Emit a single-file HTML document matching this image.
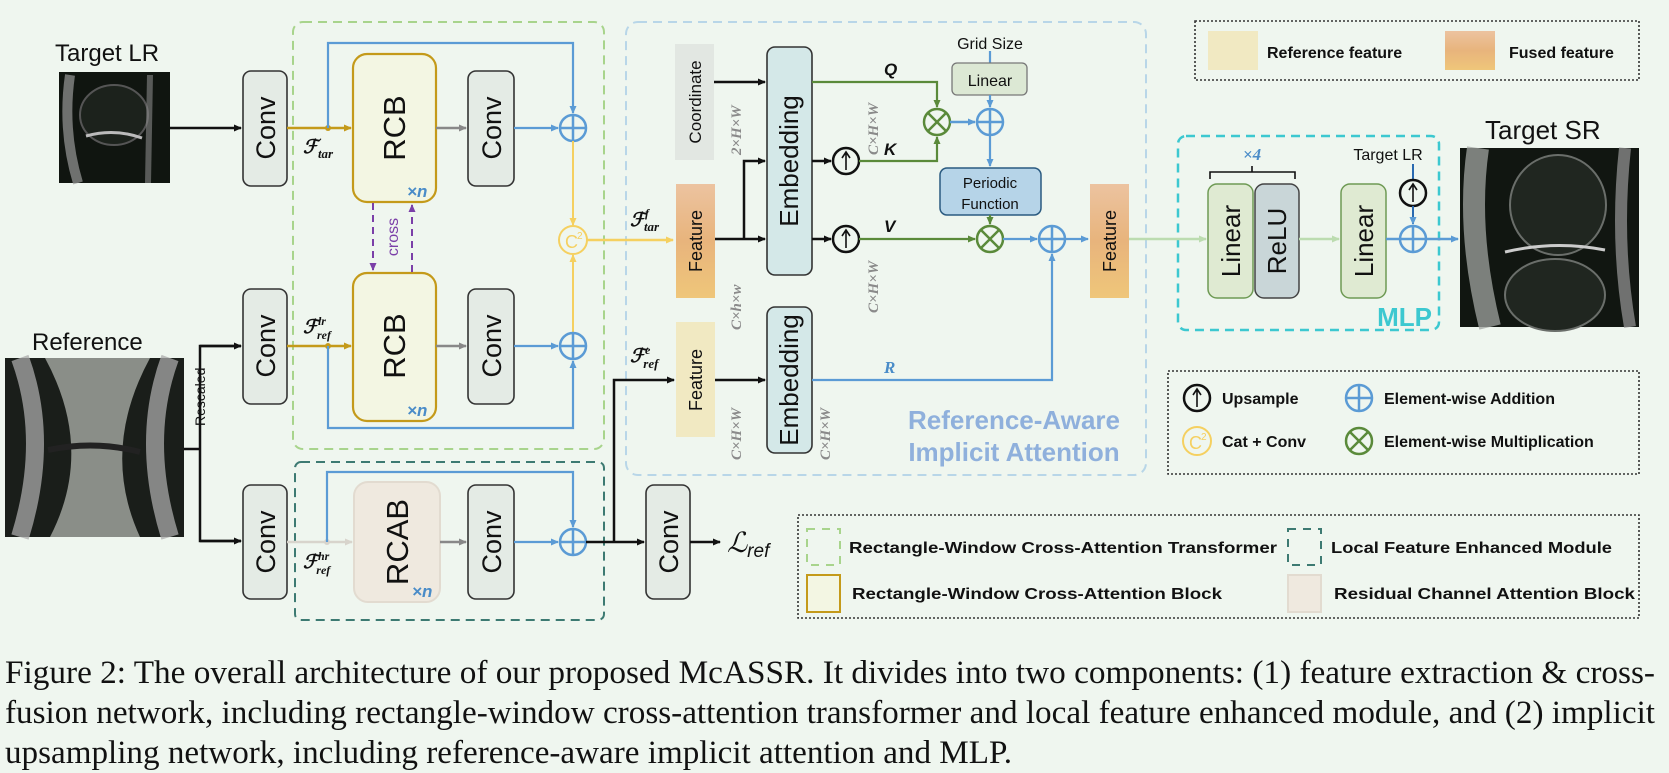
<!DOCTYPE html>
<html><head><meta charset="utf-8"><style>
html,body{margin:0;padding:0;background:#eff6ef;}
svg{display:block;}
text{font-family:"Liberation Sans",sans-serif;}
.v{font-family:"Liberation Sans",sans-serif;}
.m{font-family:"Liberation Serif",serif;font-style:italic;font-weight:bold;}
.d{font-family:"Liberation Serif",serif;font-style:italic;font-weight:bold;fill:#8a8a8a;font-size:15px;}
.lg{font-weight:bold;font-size:16px;fill:#111;}
.cap{font-family:"Liberation Serif",serif;font-size:33px;fill:#111;}
</style></head><body>
<svg width="1669" height="773" viewBox="0 0 1669 773" xmlns="http://www.w3.org/2000/svg">
<defs>
<marker id="ak" markerWidth="8" markerHeight="8" refX="7" refY="4" orient="auto" markerUnits="userSpaceOnUse"><path d="M0,0.5 L8,4 L0,7.5z" fill="#111"/></marker>
<marker id="ab" markerWidth="8" markerHeight="8" refX="7" refY="4" orient="auto" markerUnits="userSpaceOnUse"><path d="M0,0.5 L8,4 L0,7.5z" fill="#5b9bd5"/></marker>
<marker id="ag" markerWidth="8" markerHeight="8" refX="7" refY="4" orient="auto" markerUnits="userSpaceOnUse"><path d="M0,0.5 L8,4 L0,7.5z" fill="#c49a1a"/></marker>
<marker id="ay" markerWidth="8" markerHeight="8" refX="7" refY="4" orient="auto" markerUnits="userSpaceOnUse"><path d="M0,0.5 L8,4 L0,7.5z" fill="#f5d060"/></marker>
<marker id="agr" markerWidth="8" markerHeight="8" refX="7" refY="4" orient="auto" markerUnits="userSpaceOnUse"><path d="M0,0.5 L8,4 L0,7.5z" fill="#888"/></marker>
<marker id="agn" markerWidth="8" markerHeight="8" refX="7" refY="4" orient="auto" markerUnits="userSpaceOnUse"><path d="M0,0.5 L8,4 L0,7.5z" fill="#5a8a3a"/></marker>
<marker id="ap" markerWidth="8" markerHeight="8" refX="7" refY="4" orient="auto" markerUnits="userSpaceOnUse"><path d="M0,0.5 L8,4 L0,7.5z" fill="#7b3fa8"/></marker>
<marker id="al" markerWidth="8" markerHeight="8" refX="7" refY="4" orient="auto" markerUnits="userSpaceOnUse"><path d="M0,0.5 L8,4 L0,7.5z" fill="#bcdcb0"/></marker>
<marker id="ae" markerWidth="8" markerHeight="8" refX="7" refY="4" orient="auto" markerUnits="userSpaceOnUse"><path d="M0,0.5 L8,4 L0,7.5z" fill="#d8d4cc"/></marker>
<linearGradient id="fus" x1="0" y1="0" x2="0" y2="1"><stop offset="0" stop-color="#ecc3a0"/><stop offset="0.5" stop-color="#e8b47c"/><stop offset="1" stop-color="#efc67a"/></linearGradient>
<g id="plus"><circle r="13" fill="none" stroke="#5b9bd5" stroke-width="2.5"/><path d="M-13,0H13M0,-13V13" stroke="#5b9bd5" stroke-width="2.5"/></g>
<g id="times"><circle r="13" fill="none" stroke="#5a8a3a" stroke-width="2.5"/><path d="M-9,-9L9,9M9,-9L-9,9" stroke="#5a8a3a" stroke-width="2.5"/></g>
<g id="up"><circle r="13" fill="#fff" fill-opacity="0" stroke="#111" stroke-width="2.5"/><path d="M0,9V-8M-4,-3L0,-9L4,-3" stroke="#111" stroke-width="1.6" fill="none"/></g>
</defs>

<rect width="1669" height="773" fill="#eff6ef"/>

<rect x="293" y="22" width="311" height="427" rx="10" fill="none" stroke="#a8d48c" stroke-width="2" stroke-dasharray="9,6"/>
<rect x="295" y="462" width="309" height="158" rx="6" fill="none" stroke="#3d7a72" stroke-width="2" stroke-dasharray="9,6"/>
<rect x="626" y="22" width="520" height="453" rx="12" fill="none" stroke="#b8d6e8" stroke-width="2" stroke-dasharray="9,6"/>
<rect x="1178" y="136" width="261" height="194" rx="8" fill="none" stroke="#3cc8d0" stroke-width="2.5" stroke-dasharray="9,6"/>

<!-- Target LR -->
<text x="55" y="61" font-size="24" fill="#111">Target LR</text>
<rect x="59" y="72" width="111" height="111" fill="#101510"/>
<ellipse cx="114" cy="115" rx="34" ry="30" fill="#1c221c" stroke="#555" stroke-width="2"/>
<path d="M70,75 Q62,130 78,183" stroke="#999" stroke-width="10" fill="none" opacity="0.7"/>
<path d="M86,136 Q114,128 142,138" stroke="#bbb" stroke-width="3" fill="none"/>
<path d="M150,75 L148,183" stroke="#888" stroke-width="6" fill="none" opacity="0.6"/>
<path d="M170,128H241" stroke="#111" stroke-width="2.5" marker-end="url(#ak)"/>

<!-- Reference -->
<text x="32" y="350" font-size="24" fill="#111">Reference</text>
<rect x="5" y="358" width="179" height="179" fill="#1a1e1a"/>
<path d="M20,358 Q50,440 20,537 M170,358 Q140,440 170,537" stroke="#aaa" stroke-width="18" fill="none" opacity="0.75"/>
<path d="M45,358 Q95,450 50,537 L140,537 Q100,450 150,358z" fill="#8a8e88"/>
<path d="M48,450 Q95,440 140,452" stroke="#222" stroke-width="6" fill="none"/>
<path d="M184,449H200V346H241M200,449V541H241" stroke="#111" stroke-width="2.5" fill="none"/>
<path d="M200,346H241" stroke="#111" stroke-width="2.5" marker-end="url(#ak)"/>
<path d="M200,541H241" stroke="#111" stroke-width="2.5" marker-end="url(#ak)"/>
<text class="v" transform="translate(205,426) rotate(-90)" font-size="14" fill="#111">Rescaled</text>

<g fill="#e4ebe5" stroke="#333" stroke-width="1.6">
<rect x="243" y="71" width="44" height="115" rx="8"/>
<rect x="468" y="71" width="46" height="115" rx="8"/>
<rect x="243" y="289" width="44" height="115" rx="8"/>
<rect x="468" y="289" width="46" height="115" rx="8"/>
<rect x="243" y="485" width="44" height="114" rx="8"/>
<rect x="468" y="485" width="46" height="114" rx="8"/>
<rect x="646" y="485" width="44" height="114" rx="8"/>
</g>
<g font-size="27" fill="#111" text-anchor="middle">
<text transform="translate(275,128) rotate(-90)">Conv</text>
<text transform="translate(501,128) rotate(-90)">Conv</text>
<text transform="translate(275,346) rotate(-90)">Conv</text>
<text transform="translate(501,346) rotate(-90)">Conv</text>
<text transform="translate(275,542) rotate(-90)">Conv</text>
<text transform="translate(501,542) rotate(-90)">Conv</text>
<text transform="translate(678,542) rotate(-90)">Conv</text>
</g>

<rect x="353" y="54" width="83" height="148" rx="14" fill="#f3f6e3" stroke="#c49a1a" stroke-width="2.2"/>
<rect x="353" y="273" width="83" height="148" rx="14" fill="#f3f6e3" stroke="#c49a1a" stroke-width="2.2"/>
<rect x="354" y="482" width="86" height="120" rx="14" fill="#efe9df" stroke="#e2dbd0" stroke-width="2"/>
<g font-size="31" fill="#111" text-anchor="middle">
<text transform="translate(405,128) rotate(-90)">RCB</text>
<text transform="translate(405,346) rotate(-90)">RCB</text>
<text transform="translate(408,542) rotate(-90)">RCAB</text>
</g>
<g class="m" font-size="17" fill="#4a8cc8" font-weight="normal">
<text x="407" y="197">×<tspan font-weight="bold">n</tspan></text>
<text x="407" y="416">×<tspan font-weight="bold">n</tspan></text>
<text x="412" y="597">×<tspan font-weight="bold">n</tspan></text>
</g>

<path d="M287,128H351" stroke="#c49a1a" stroke-width="2.5" marker-end="url(#ag)"/>
<circle cx="328" cy="128" r="3" fill="#c49a1a"/>
<path d="M328,128V43H573V113" stroke="#5b9bd5" stroke-width="2.2" fill="none" marker-end="url(#ab)"/>
<path d="M436,128H466" stroke="#888" stroke-width="2.5" marker-end="url(#agr)"/>
<path d="M514,128H558" stroke="#5b9bd5" stroke-width="2.2" marker-end="url(#ab)"/>
<use href="#plus" x="573" y="128"/>
<path d="M573,141V225" stroke="#f5d060" stroke-width="2" marker-end="url(#ay)"/>
<path d="M573,333V255" stroke="#f5d060" stroke-width="2" marker-end="url(#ay)"/>
<circle cx="573" cy="240" r="14" fill="none" stroke="#f5d060" stroke-width="2"/>
<text x="565" y="248" font-size="18" fill="#f5d060">C</text><text x="577" y="239" font-size="10" fill="#f5d060">2</text>
<path d="M587,240H673" stroke="#f5d060" stroke-width="2.5" marker-end="url(#ay)"/>
<text class="m" x="303" y="153" font-size="19" fill="#111">ℱ<tspan font-size="13" dy="5">tar</tspan></text>

<path d="M373,203V270" stroke="#7b3fa8" stroke-width="2" stroke-dasharray="7,5" marker-end="url(#ap)"/>
<path d="M412,272V205" stroke="#7b3fa8" stroke-width="2" stroke-dasharray="7,5" marker-end="url(#ap)"/>
<text transform="translate(398,237) rotate(-90)" font-size="16" fill="#7b3fa8" text-anchor="middle">cross</text>

<path d="M287,346H351" stroke="#c49a1a" stroke-width="2.5" marker-end="url(#ag)"/>
<circle cx="328" cy="346" r="3" fill="#c49a1a"/>
<path d="M328,346V428H573V361" stroke="#5b9bd5" stroke-width="2.2" fill="none" marker-end="url(#ab)"/>
<path d="M436,346H466" stroke="#888" stroke-width="2.5" marker-end="url(#agr)"/>
<path d="M514,346H558" stroke="#5b9bd5" stroke-width="2.2" marker-end="url(#ab)"/>
<use href="#plus" x="573" y="346"/>
<text class="m" x="303" y="333" font-size="19" fill="#111">ℱ<tspan font-size="12" dy="-8">lr</tspan><tspan font-size="12" dx="-9" dy="14">ref</tspan></text>

<path d="M287,542H352" stroke="#d8d4cc" stroke-width="2.5" marker-end="url(#ae)"/>
<circle cx="327" cy="542" r="3" fill="#d8d4cc"/>
<path d="M327,542V472H573V527" stroke="#5b9bd5" stroke-width="2.2" fill="none" marker-end="url(#ab)"/>
<path d="M440,542H466" stroke="#888" stroke-width="2.5" marker-end="url(#agr)"/>
<path d="M514,542H558" stroke="#5b9bd5" stroke-width="2.2" marker-end="url(#ab)"/>
<use href="#plus" x="573" y="542"/>
<text class="m" x="303" y="568" font-size="19" fill="#111">ℱ<tspan font-size="12" dy="-8">hr</tspan><tspan font-size="12" dx="-13" dy="14">ref</tspan></text>
<path d="M586,542H644" stroke="#111" stroke-width="2.5" marker-end="url(#ak)"/>
<path d="M614,542V380H674" stroke="#111" stroke-width="2.5" fill="none" marker-end="url(#ak)"/>
<path d="M690,542H720" stroke="#111" stroke-width="2.5" marker-end="url(#ak)"/>
<text x="727" y="552" font-family="Liberation Serif,serif" font-style="italic" font-size="28" fill="#111">ℒ<tspan font-size="19" dy="5">ref</tspan></text>

<rect x="675" y="44" width="39" height="116" fill="#e2e7e2"/>
<text transform="translate(701,102) rotate(-90)" font-size="17" fill="#111" text-anchor="middle">Coordinate</text>
<rect x="676" y="184" width="39" height="114" fill="url(#fus)"/>
<text transform="translate(702,241) rotate(-90)" font-size="18" fill="#111" text-anchor="middle">Feature</text>
<rect x="676" y="322" width="39" height="115" fill="#f1e9c2"/>
<text transform="translate(702,380) rotate(-90)" font-size="18" fill="#111" text-anchor="middle">Feature</text>
<rect x="767" y="47" width="45" height="228" rx="8" fill="#d4e8e8" stroke="#333" stroke-width="1.6"/>
<text transform="translate(798,161) rotate(-90)" font-size="26" fill="#111" text-anchor="middle">Embedding</text>
<rect x="767" y="307" width="45" height="146" rx="8" fill="#d4e8e8" stroke="#333" stroke-width="1.6"/>
<text transform="translate(798,380) rotate(-90)" font-size="26" fill="#111" text-anchor="middle">Embedding</text>

<text class="m" x="630" y="226" font-size="19" fill="#111">ℱ<tspan font-size="12" dy="-9">f</tspan><tspan font-size="13" dx="-5" dy="14">tar</tspan></text>
<text class="m" x="630" y="362" font-size="19" fill="#111">ℱ<tspan font-size="12" dy="-8">e</tspan><tspan font-size="13" dx="-7" dy="14">ref</tspan></text>

<path d="M714,82H765" stroke="#111" stroke-width="2.5" marker-end="url(#ak)"/>
<path d="M715,239H765" stroke="#111" stroke-width="2.5" marker-end="url(#ak)"/>
<path d="M744,239V161H765" stroke="#111" stroke-width="2.5" fill="none" marker-end="url(#ak)"/>
<path d="M715,380H765" stroke="#111" stroke-width="2.5" marker-end="url(#ak)"/>
<path d="M812,161H831" stroke="#111" stroke-width="2.5" marker-end="url(#ak)"/>
<path d="M812,239H831" stroke="#111" stroke-width="2.5" marker-end="url(#ak)"/>
<use href="#up" x="846" y="161"/>
<use href="#up" x="846" y="239"/>

<text class="d" transform="translate(741,155) rotate(-90)">2×H×W</text>
<text class="d" transform="translate(741,330) rotate(-90)">C×h×w</text>
<text class="d" transform="translate(741,460) rotate(-90)">C×H×W</text>
<text class="d" transform="translate(830,460) rotate(-90)">C×H×W</text>
<text class="d" transform="translate(878,155) rotate(-90)">C×H×W</text>
<text class="d" transform="translate(878,313) rotate(-90)">C×H×W</text>

<path d="M812,82H937V107" stroke="#5a8a3a" stroke-width="2.2" fill="none" marker-end="url(#agn)"/>
<path d="M859,161H937V137" stroke="#5a8a3a" stroke-width="2.2" fill="none" marker-end="url(#agn)"/>
<path d="M859,239H975" stroke="#5a8a3a" stroke-width="2.2" marker-end="url(#agn)"/>
<g class="m" font-size="17" fill="#111">
<text x="884" y="75">Q</text><text x="884" y="155">K</text><text x="884" y="232">V</text>
</g>
<text class="m" x="884" y="373" font-size="17" fill="#4a8cc8">R</text>
<use href="#times" x="937" y="122"/>
<path d="M950,122H975" stroke="#5b9bd5" stroke-width="2.5" marker-end="url(#ab)"/>
<use href="#plus" x="990" y="122"/>
<text x="990" y="49" font-size="16" fill="#111" text-anchor="middle">Grid Size</text>
<path d="M990,51V63" stroke="#5b9bd5" stroke-width="2.2"/>
<rect x="952" y="63" width="75" height="32" rx="5" fill="#dce8d4" stroke="#777" stroke-width="1.3"/>
<text x="990" y="86" font-size="16" fill="#111" text-anchor="middle">Linear</text>
<path d="M990,95V107" stroke="#5b9bd5" stroke-width="2.2" marker-end="url(#ab)"/>
<path d="M990,135V166" stroke="#5b9bd5" stroke-width="2.2" marker-end="url(#ab)"/>
<rect x="940" y="168" width="101" height="47" rx="7" fill="#b6d4e8" stroke="#2a5a80" stroke-width="1.5"/>
<text x="990" y="188" font-size="15" fill="#111" text-anchor="middle">Periodic</text>
<text x="990" y="209" font-size="15" fill="#111" text-anchor="middle">Function</text>
<path d="M990,215V224" stroke="#5a8a3a" stroke-width="2.2" marker-end="url(#agn)"/>
<use href="#times" x="990" y="239"/>
<path d="M1003,239H1037" stroke="#5b9bd5" stroke-width="2.2" marker-end="url(#ab)"/>
<use href="#plus" x="1052" y="239"/>
<path d="M812,380H1052V254" stroke="#5b9bd5" stroke-width="2.2" fill="none" marker-end="url(#ab)"/>
<path d="M1065,239H1088" stroke="#5b9bd5" stroke-width="2.2" marker-end="url(#ab)"/>
<rect x="1090" y="184" width="39" height="114" fill="url(#fus)"/>
<text transform="translate(1116,241) rotate(-90)" font-size="18" fill="#111" text-anchor="middle">Feature</text>
<text x="1014" y="429" font-size="26" font-weight="bold" fill="#8fb0dc" text-anchor="middle">Reference-Aware</text>
<text x="1014" y="461" font-size="26" font-weight="bold" fill="#8fb0dc" text-anchor="middle">Implicit Attention</text>

<path d="M1129,239H1206" stroke="#bcdcb0" stroke-width="2.5" marker-end="url(#al)"/>
<rect x="1208" y="184" width="45" height="114" rx="9" fill="#dfead2" stroke="#6e9a54" stroke-width="1.5"/>
<rect x="1255" y="184" width="44" height="114" rx="9" fill="#c9d6d8" stroke="#444" stroke-width="1.5"/>
<rect x="1341" y="184" width="45" height="114" rx="9" fill="#dfead2" stroke="#6e9a54" stroke-width="1.5"/>
<g font-size="26" fill="#111" text-anchor="middle">
<text transform="translate(1240,241) rotate(-90)">Linear</text>
<text transform="translate(1286,241) rotate(-90)">ReLU</text>
<text transform="translate(1373,241) rotate(-90)">Linear</text>
</g>
<path d="M1299,239H1339" stroke="#bcdcb0" stroke-width="2.5" marker-end="url(#al)"/>
<text x="1252" y="160" class="m" font-size="17" fill="#4a8cc8" text-anchor="middle" font-weight="normal">×<tspan font-weight="bold">4</tspan></text>
<path d="M1210,179V172H1252V166M1252,172H1295V179" stroke="#111" stroke-width="1.6" fill="none"/>
<text x="1388" y="160" font-size="16" fill="#111" text-anchor="middle">Target LR</text>
<path d="M1413,164V180" stroke="#2a6ab0" stroke-width="2"/>
<use href="#up" x="1413" y="193"/>
<path d="M1413,206V224" stroke="#2a6ab0" stroke-width="2" marker-end="url(#ab)"/>
<path d="M1386,239H1400" stroke="#5b9bd5" stroke-width="2.5"/>
<use href="#plus" x="1413" y="239"/>
<path d="M1426,239H1458" stroke="#5b9bd5" stroke-width="2.5" marker-end="url(#ab)"/>
<text x="1432" y="326" font-size="26" font-weight="bold" fill="#3cc8d0" text-anchor="end">MLP</text>

<text x="1485" y="139" font-size="26" fill="#111">Target SR</text>
<rect x="1460" y="148" width="179" height="179" fill="#111611"/>
<path d="M1478,148 Q1466,230 1490,327" stroke="#a0a4a0" stroke-width="22" fill="none" opacity="0.75"/>
<path d="M1625,148 Q1615,240 1630,327" stroke="#999" stroke-width="12" fill="none" opacity="0.7"/>
<ellipse cx="1558" cy="205" rx="48" ry="50" fill="#202620" stroke="#6a6e6a" stroke-width="2"/>
<ellipse cx="1555" cy="295" rx="50" ry="36" fill="#202620" stroke="#6a6e6a" stroke-width="2"/>
<path d="M1505,252 Q1555,240 1605,250" stroke="#ccc" stroke-width="3" fill="none"/>

<rect x="1195" y="21" width="444" height="59" fill="none" stroke="#333" stroke-width="1.6" stroke-dasharray="2,2"/>
<rect x="1208" y="31" width="50" height="39" fill="#f1e9c2"/>
<text x="1267" y="58" class="lg" font-size="17">Reference feature</text>
<rect x="1445" y="31" width="50" height="39" fill="url(#fus)"/>
<text x="1509" y="58" class="lg" font-size="17">Fused feature</text>

<rect x="1168" y="371" width="471" height="103" fill="none" stroke="#333" stroke-width="1.6" stroke-dasharray="2,2"/>
<use href="#up" x="1197" y="398"/>
<text x="1222" y="404" class="lg" font-size="17">Upsample</text>
<use href="#plus" x="1359" y="398"/>
<text x="1384" y="404" class="lg" font-size="17">Element-wise Addition</text>
<circle cx="1197" cy="441" r="14" fill="none" stroke="#f5d060" stroke-width="2"/>
<text x="1189" y="449" font-size="18" fill="#f5d060">C</text><text x="1201" y="440" font-size="10" fill="#f5d060">2</text>
<text x="1222" y="447" class="lg" font-size="17">Cat + Conv</text>
<use href="#times" x="1359" y="441"/>
<text x="1384" y="447" class="lg" font-size="17">Element-wise Multiplication</text>

<rect x="798" y="515" width="841" height="103" fill="none" stroke="#333" stroke-width="1.6" stroke-dasharray="2,2"/>
<rect x="807" y="529" width="33" height="36" fill="none" stroke="#a8d48c" stroke-width="2" stroke-dasharray="8,7"/>
<text x="849" y="553" class="lg" textLength="428" lengthAdjust="spacingAndGlyphs">Rectangle-Window Cross-Attention Transformer</text>
<rect x="1288" y="529" width="33" height="36" fill="none" stroke="#3d7a72" stroke-width="2" stroke-dasharray="8,7"/>
<text x="1331" y="553" class="lg" textLength="281" lengthAdjust="spacingAndGlyphs">Local Feature Enhanced Module</text>
<rect x="807" y="575" width="33" height="37" fill="#f3f6e3" stroke="#c49a1a" stroke-width="2"/>
<text x="852" y="599" class="lg" textLength="370" lengthAdjust="spacingAndGlyphs">Rectangle-Window Cross-Attention Block</text>
<rect x="1288" y="575" width="33" height="37" fill="#efe9df" stroke="#e2dbd0" stroke-width="2"/>
<text x="1334" y="599" class="lg" textLength="301" lengthAdjust="spacingAndGlyphs">Residual Channel Attention Block</text>

<text class="cap" x="5" y="683" textLength="1650" lengthAdjust="spacingAndGlyphs">Figure 2: The overall architecture of our proposed McASSR. It divides into two components: (1) feature extraction &amp; cross-</text>
<text class="cap" x="5" y="723" textLength="1650" lengthAdjust="spacingAndGlyphs">fusion network, including rectangle-window cross-attention transformer and local feature enhanced module, and (2) implicit</text>
<text class="cap" x="5" y="763" textLength="1007" lengthAdjust="spacingAndGlyphs">upsampling network, including reference-aware implicit attention and MLP.</text>
</svg>
</body></html>
